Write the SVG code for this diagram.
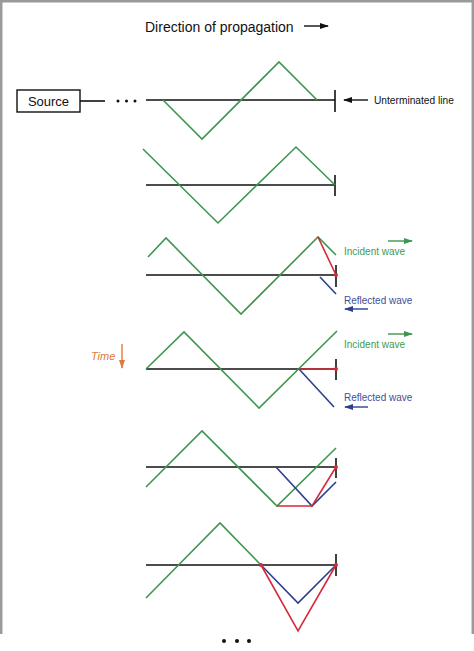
<svg xmlns="http://www.w3.org/2000/svg" width="474" height="651" viewBox="0 0 474 651">
<defs>
<style>
.ax{stroke:#111;stroke-width:1.6;fill:none}
.tk{stroke:#111;stroke-width:1.6}
.g{stroke:#3f9650;stroke-width:1.6;fill:none;stroke-linejoin:miter}
.r{stroke:#d42a3a;stroke-width:1.6;fill:none}
.b{stroke:#2e3f8e;stroke-width:1.6;fill:none}
.t{font-family:"Liberation Sans",Arial,sans-serif}
.frame{stroke:#9a9a9a;stroke-width:2.5;fill:none}
</style>
<marker id="ak" markerWidth="9" markerHeight="6" refX="8" refY="3" orient="auto" markerUnits="userSpaceOnUse"><path d="M0,0 L9,3 L0,6 Z" fill="#111"/></marker>
<marker id="ag" markerWidth="9" markerHeight="6" refX="8" refY="3" orient="auto" markerUnits="userSpaceOnUse"><path d="M0,0 L9,3 L0,6 Z" fill="#3f9650"/></marker>
<marker id="ab" markerWidth="9" markerHeight="6" refX="8" refY="3" orient="auto" markerUnits="userSpaceOnUse"><path d="M0,0 L9,3 L0,6 Z" fill="#2e3f8e"/></marker>
<marker id="ao" markerWidth="9" markerHeight="6" refX="8" refY="3" orient="auto" markerUnits="userSpaceOnUse"><path d="M0,0 L9,3 L0,6 Z" fill="#e07a3a"/></marker>
</defs>
<rect width="474" height="651" fill="#fff"/>
<path class="frame" d="M1.2,634 V1.2 H472.8 V634"/>

<g id="title">
<text class="t" x="145" y="32" font-size="14" fill="#111">Direction of propagation</text>
<line x1="304" y1="26" x2="328" y2="26" stroke="#111" stroke-width="1.4" marker-end="url(#ak)"/>
</g>

<g id="source">
<rect x="17" y="90" width="63" height="22" fill="#fff" stroke="#111" stroke-width="1.4"/>
<text class="t" x="48.5" y="106" font-size="13" fill="#111" text-anchor="middle">Source</text>
</g>

<g id="unterminated-label">
<text class="t" x="374" y="104" font-size="10.2" fill="#111">Unterminated line</text>
</g>

<g id="time-label">
<text class="t" x="91" y="360" font-size="11" font-style="italic" fill="#e07a3a">Time</text>
</g>

<g id="incident-label-1"><text class="t" x="344" y="255" font-size="10" fill="#3f9a52">Incident wave</text></g>
<g id="reflected-label-1"><text class="t" x="344" y="304" font-size="10" fill="#3f4f95">Reflected wave</text></g>
<g id="incident-label-2"><text class="t" x="344" y="348" font-size="10" fill="#3f9a52">Incident wave</text></g>
<g id="reflected-label-2"><text class="t" x="344" y="401" font-size="10" fill="#3f4f95">Reflected wave</text></g>

<g id="connectors">
<!-- panel 1 -->
<line class="ax" x1="80" y1="101" x2="105" y2="101"/>
<circle cx="118" cy="101" r="1.5" fill="#111"/>
<circle cx="126.5" cy="101" r="1.5" fill="#111"/>
<circle cx="135" cy="101" r="1.5" fill="#111"/>
<line class="ax" x1="146" y1="100" x2="335" y2="100"/>
<line class="tk" x1="335" y1="90" x2="335" y2="112"/>
<polyline class="g" points="163,100 202,139 279,62 317,100"/>
<line x1="368" y1="100" x2="344" y2="100" stroke="#111" stroke-width="1.4" marker-end="url(#ak)"/>

<!-- panel 2 -->
<line class="ax" x1="146" y1="185" x2="335" y2="185"/>
<line class="tk" x1="335" y1="175" x2="335" y2="196"/>
<polyline class="g" points="143,149 218,223 296,147 335,185"/>

<!-- panel 3 -->
<line class="ax" x1="146" y1="275" x2="336" y2="275"/>
<line class="tk" x1="336" y1="265" x2="336" y2="287"/>
<polyline class="g" points="148,257 166,238 241,314 318,237 336,255"/>
<line class="b" x1="320" y1="277" x2="336" y2="294"/>
<line class="r" x1="318" y1="237" x2="336" y2="275"/>
<circle cx="336" cy="275" r="2" fill="#d42a3a"/>
<line x1="388" y1="241" x2="412" y2="241" stroke="#3f9650" stroke-width="1.4" marker-end="url(#ag)"/>
<line x1="368" y1="309" x2="345" y2="309" stroke="#2e3f8e" stroke-width="1.4" marker-end="url(#ab)"/>

<!-- time arrow -->
<line x1="122" y1="344" x2="122" y2="368" stroke="#e07a3a" stroke-width="1.4" marker-end="url(#ao)"/>

<!-- panel 4 -->
<line class="ax" x1="146" y1="369" x2="336" y2="369"/>
<line class="tk" x1="336" y1="359" x2="336" y2="380"/>
<polyline class="g" points="146,369 184,332 259,408 337,331"/>
<line class="b" x1="299" y1="369" x2="334" y2="407"/>
<line class="r" x1="299" y1="369" x2="336" y2="369"/>
<circle cx="336" cy="369" r="2" fill="#d42a3a"/>
<line x1="388" y1="334" x2="412" y2="334" stroke="#3f9650" stroke-width="1.4" marker-end="url(#ag)"/>
<line x1="368" y1="407" x2="345" y2="407" stroke="#2e3f8e" stroke-width="1.4" marker-end="url(#ab)"/>

<!-- panel 5 -->
<line class="ax" x1="146" y1="467" x2="336" y2="467"/>
<line class="tk" x1="336" y1="458" x2="336" y2="478"/>
<polyline class="g" points="146,487 202,431 277,506 336,448"/>
<polyline class="b" points="276,467 312,506 336,482"/>
<polyline class="r" points="277,506 312,506 336,467"/>
<circle cx="336" cy="467" r="2" fill="#d42a3a"/>

<!-- panel 6 -->
<line class="ax" x1="146" y1="565" x2="336" y2="565"/>
<line class="tk" x1="336" y1="554" x2="336" y2="576"/>
<polyline class="g" points="146,598 220,523 261,565"/>
<polyline class="b" points="261,565 298,603 336,565"/>
<polyline class="r" points="261,565 298,631 336,565"/>
<circle cx="261" cy="565" r="2" fill="#d42a3a"/>
<circle cx="336" cy="565" r="2" fill="#d42a3a"/>

<circle cx="224" cy="641" r="2" fill="#111"/>
<circle cx="237" cy="641" r="2" fill="#111"/>
<circle cx="249" cy="641" r="2" fill="#111"/>
</g>
</svg>
